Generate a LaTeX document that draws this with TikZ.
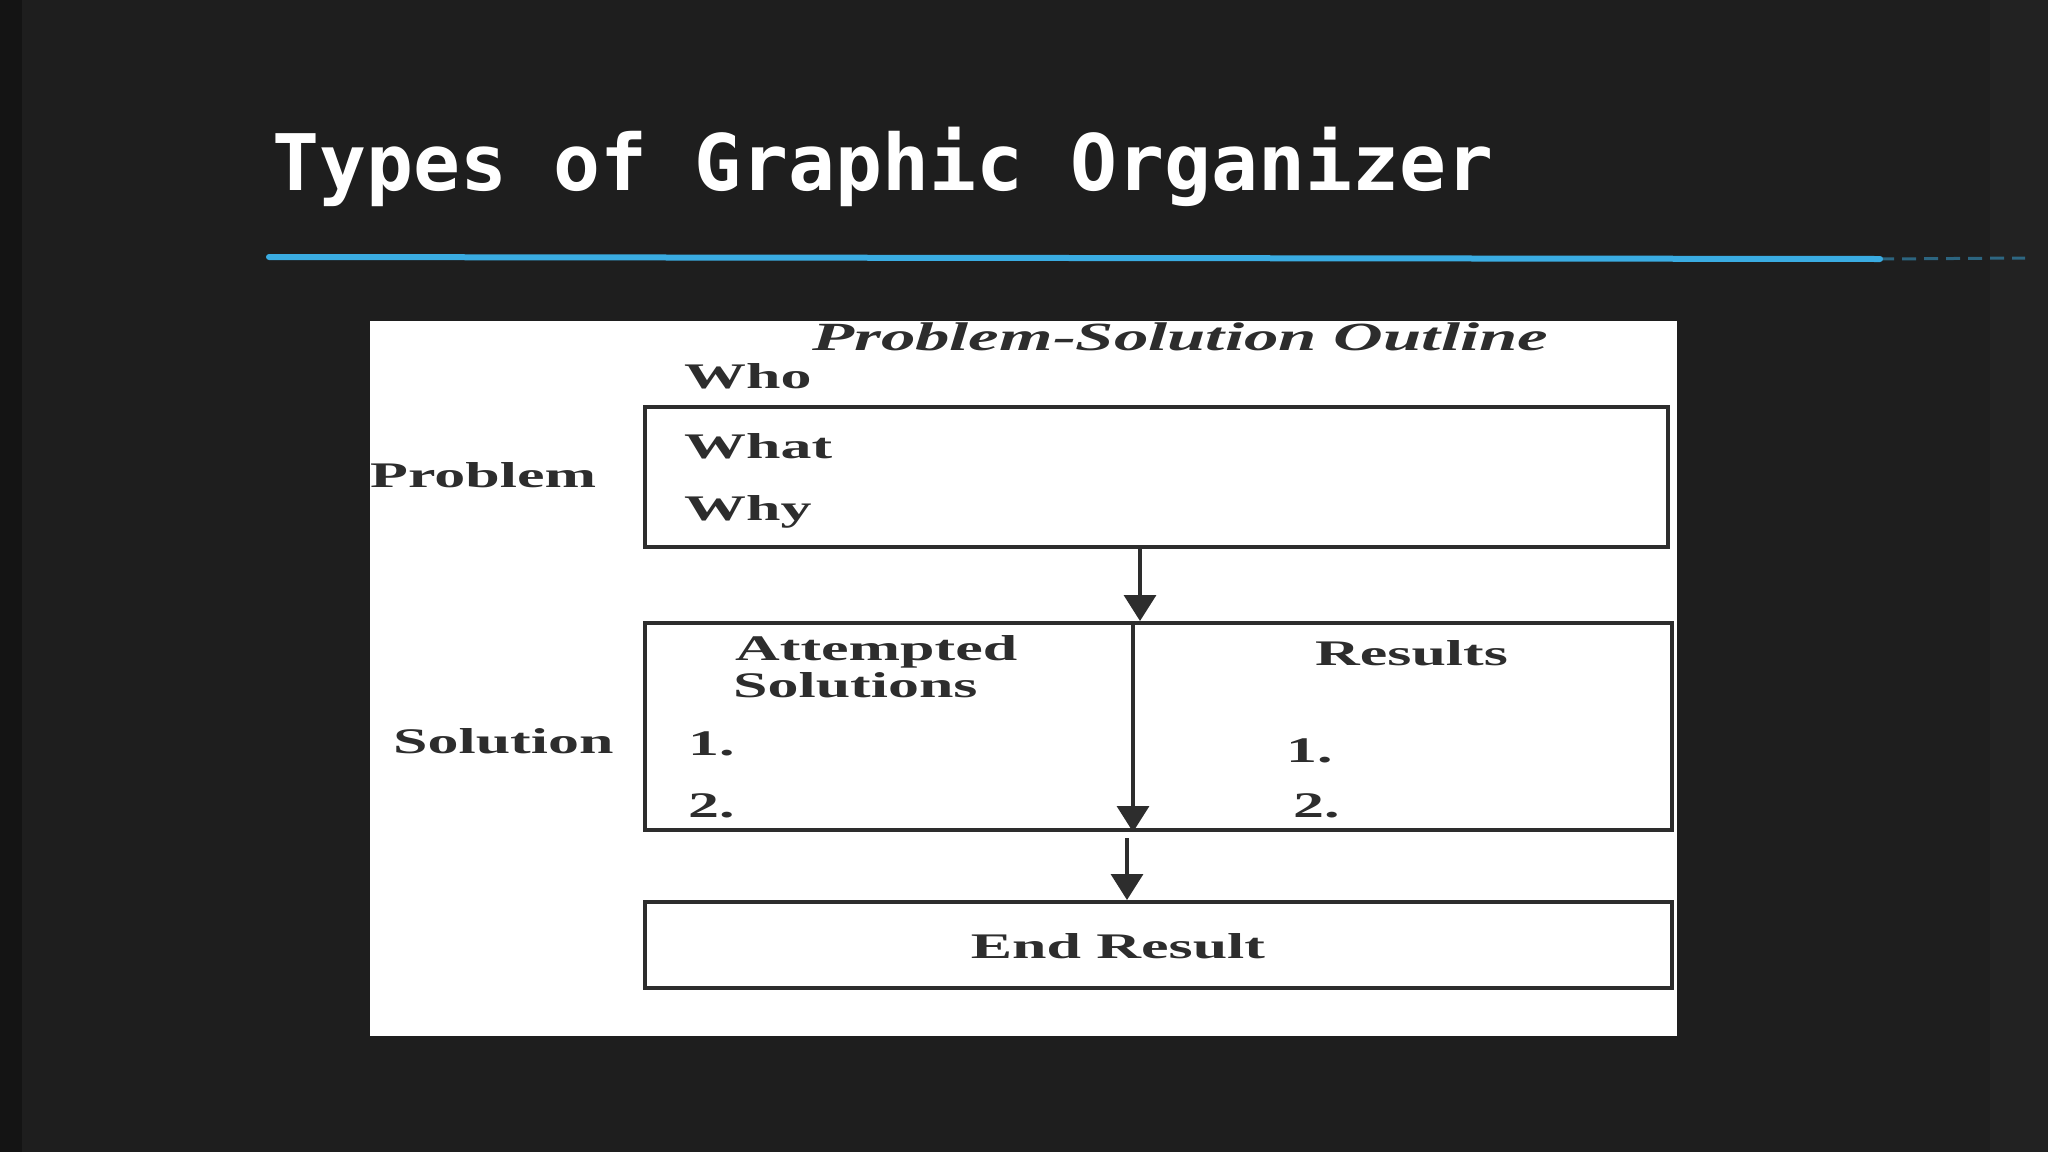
\documentclass[tikz,border=0pt]{standalone}
\usepackage{fontspec}
\usetikzlibrary{arrows.meta,positioning}
\newfontfamily\titlefont{DejaVu Sans Mono}
\newfontfamily\scanfont[FakeStretch=1.72]{Liberation Serif}
\definecolor{board}{RGB}{30,30,30}
\definecolor{chalkblue}{RGB}{58,172,226}
\definecolor{ink}{RGB}{45,45,45}
\tikzset{
  outlinebox/.style={
    draw=ink,line width=4pt,inner sep=0pt,fill=white
  },
  scantext/.style={
    text=ink,inner sep=0pt,anchor=base west,
    font=\scanfont\bfseries\fontsize{36}{40}\selectfont
  },
  flowarrow/.style={
    draw=ink,line width=3.5pt,-{Triangle[width=32pt,length=26pt]}
  }
}

\begin{document}
\begin{tikzpicture}[x=1pt,y=-1pt]
% chalkboard
\fill[board] (0,0) rectangle (2048,1152);
\useasboundingbox (0,0) rectangle (2048,1152);
\fill[black,opacity=.3] (0,0) rectangle (22,1152);
\fill[white,opacity=.02] (1990,0) rectangle (2048,1152);

\node[anchor=base west,inner sep=0pt,text=white,
  font=\titlefont\bfseries\fontsize{78}{80}\selectfont] (title) at (272,190) {Types of Graphic Organizer};
\draw[chalkblue,line width=6pt,line cap=round] (269,257) -- (1880,259);
\draw[chalkblue,line width=3pt,opacity=.5,dash pattern=on 14pt off 8pt] (1880,259) -- (2025,258);

% scanned outline
\fill[white] (370,321) rectangle (1677,1036);

\node[outlinebox,minimum width=1023pt,minimum height=140pt] (problem box) at (1156.5,477) {};
\node[outlinebox,minimum width=1027pt,minimum height=207pt] (solution box) at (1158.5,726.5) {};
\node[outlinebox,minimum width=1027pt,minimum height=86pt] (end box) at (1158.5,945) {};

\node[scantext,font=\scanfont\bfseries\itshape\fontsize{40}{42}\selectfont] (outline) at (812,350) {Problem-Solution Outline};
\node[scantext] (who) at (684,388) {Who};
\node[scantext] (what) at (684,458) {What};
\node[scantext] (why) at (684,520) {Why};
\node[scantext] (problem) at (370,487) {Problem};

\node[scantext] (attempted) at (735,660) {Attempted};
\node[scantext] (solutions) at (733,697) {Solutions};
\node[scantext] (results) at (1315,665) {Results};
\node[scantext] (solution) at (393,753) {Solution};
\node[scantext] (left one) at (688,755) {1.};
\node[scantext] (left two) at (688,817) {2.};
\node[scantext] (right one) at (1286,762) {1.};
\node[scantext] (right two) at (1293,817) {2.};

\node[scantext,anchor=base] (end result) at (1118,958) {End Result};

\draw[flowarrow] ([xshift=-16.5pt]problem box.south) -- ([xshift=-18.5pt]solution box.north);
\draw[flowarrow] ([xshift=-25.5pt]solution box.north) -- ([xshift=-25.5pt]solution box.south);
\draw[flowarrow] ([xshift=-31.5pt,yshift=-6pt]solution box.south) -- ([xshift=-31.5pt]end box.north);
\end{tikzpicture}
\end{document}
